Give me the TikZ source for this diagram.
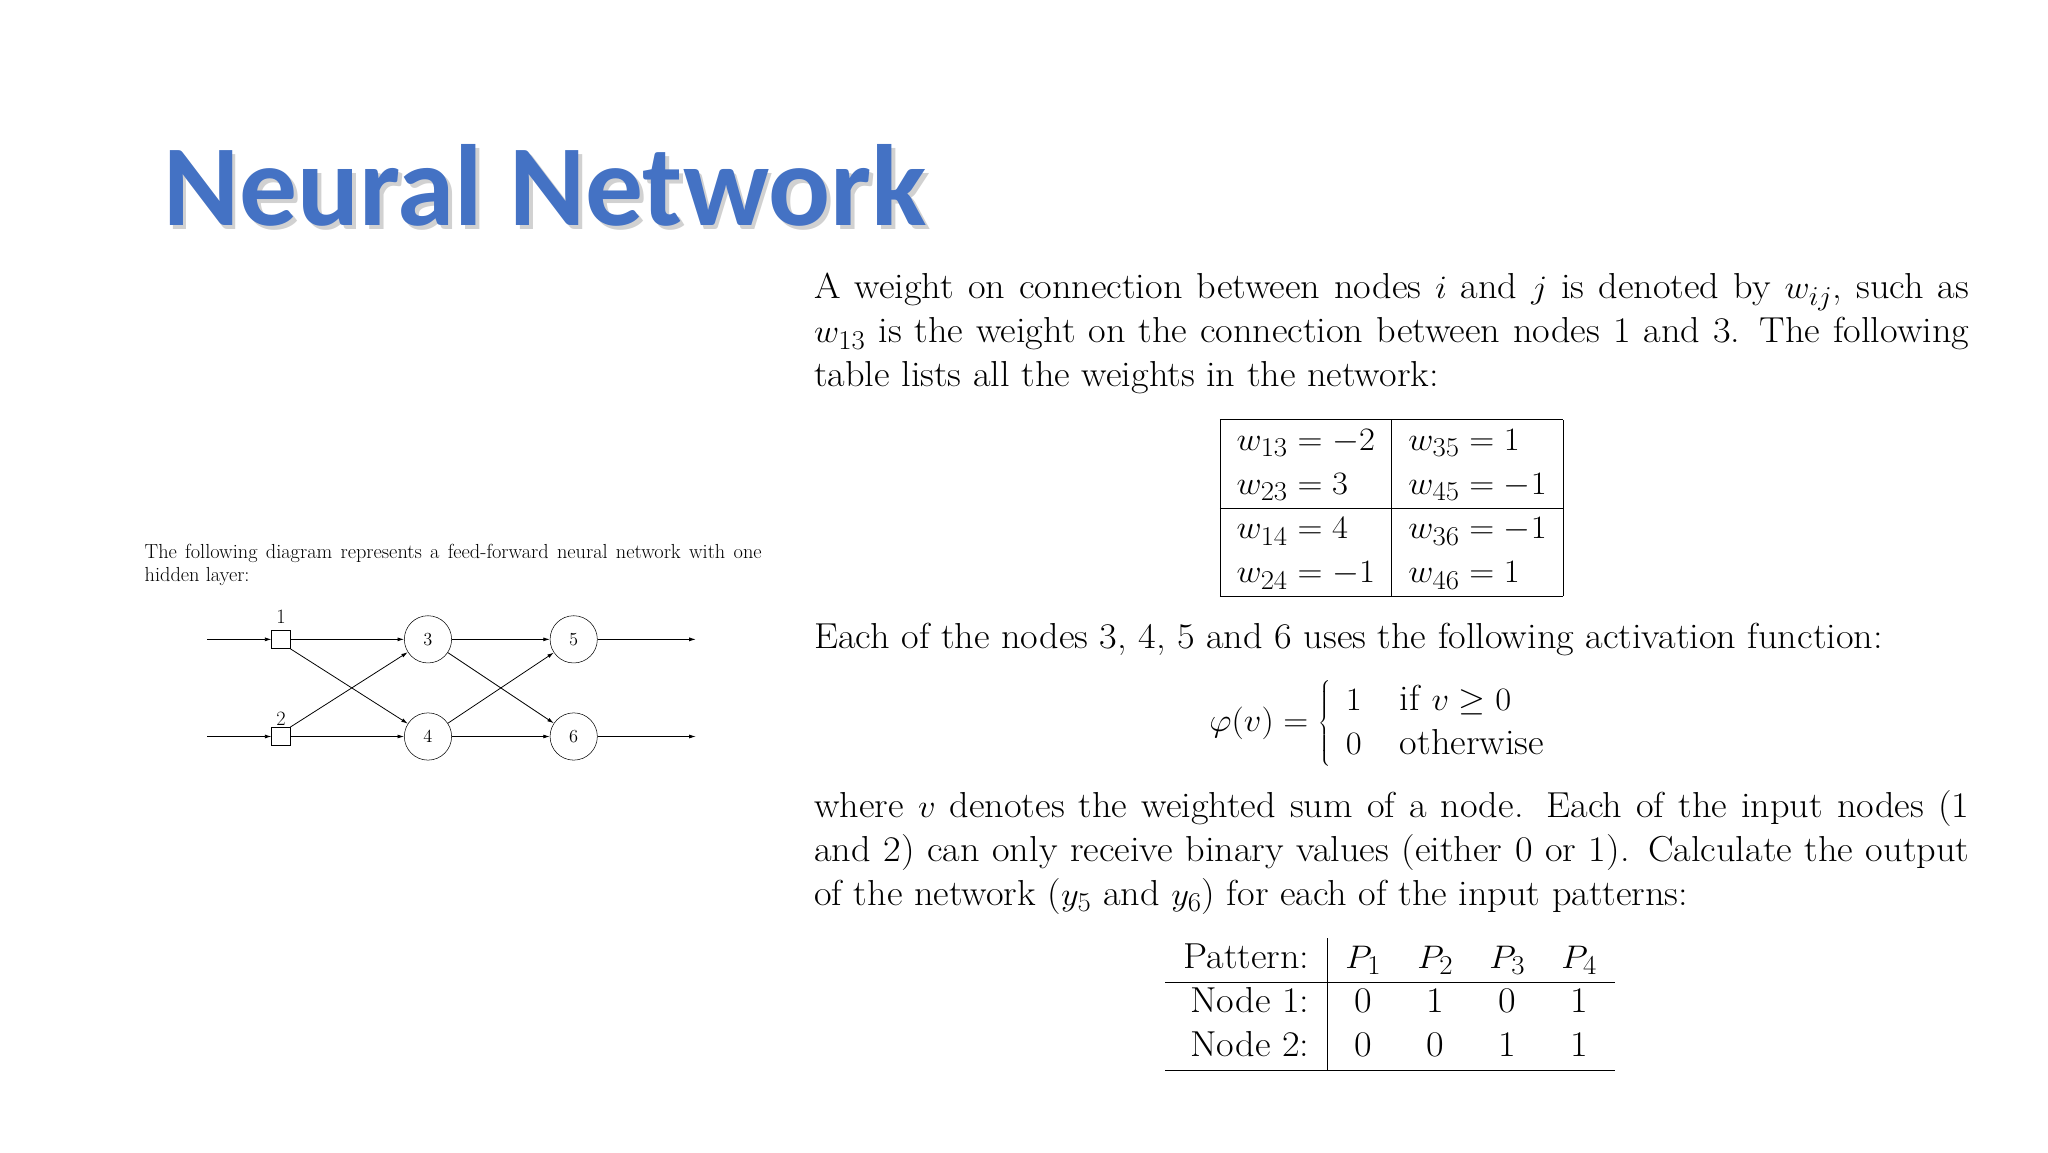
\documentclass[tikz,border=0pt]{standalone}
\usepackage{fontspec}
\newfontfamily\titlefont{Carlito}
\usetikzlibrary{arrows.meta}
\definecolor{titleblue}{RGB}{68,114,196}
\begin{document}
\begin{tikzpicture}[x=1pt,y=-1pt,
  body/.style={inner sep=0pt,xscale=1.06,transform shape,font=\fontsize{27.5}{33.5}\selectfont},
  small/.style={inner sep=0pt,font=\fontsize{15.5}{18}\selectfont},
  neuron/.style={draw,circle,minimum size=36pt,inner sep=0pt,font=\fontsize{14}{16}\selectfont},
  inbox/.style={draw,minimum size=14pt,inner sep=0pt},
  conn/.style={-{Latex[length=5pt,width=3pt]},line width=0.6pt}]
\useasboundingbox (0,0) rectangle (1560,878);
% title
\node[anchor=base west,inner sep=0pt,text=black!18,font=\titlefont\bfseries\fontsize{88}{100}\selectfont] (tshadow) at (127,175) {Neural Network};
\node[anchor=base west,inner sep=0pt,text=titleblue,font=\titlefont\bfseries\fontsize{88}{100}\selectfont] (title) at (124,172) {Neural Network};
% paragraph 1
\node[body,anchor=north west,text width=830pt,align=justify] (p1) at (620,208) {A weight on connection between nodes $i$ and $j$ is denoted by $w_{ij}$, such as $w_{13}$ is the weight on the connection between nodes 1 and 3. The following table lists all the weights in the network:};
% table 1
\node[body,anchor=north] (t1) at (1060,319) {\renewcommand{\arraystretch}{1.0}\setlength{\tabcolsep}{12pt}%
\begin{tabular}{|l|l|}\hline
$w_{13}=-2$ & $w_{35}=1$\\
$w_{23}=3$ & $w_{45}=-1$\\\hline
$w_{14}=4$ & $w_{36}=-1$\\
$w_{24}=-1$ & $w_{46}=1$\\\hline
\end{tabular}};
\node[body,anchor=base west] (p2) at (620,494) {Each of the nodes 3, 4, 5 and 6 uses the following activation function:};
\node[body,anchor=center] (phi) at (1052,551) {$\varphi(v)=\left\{\begin{array}{@{\;\,}l@{\hspace{1em}}l}1 & \mbox{if } v\ge 0\\ 0 & \mbox{otherwise}\end{array}\right.$};
\node[body,anchor=north west,text width=830pt,align=justify] (p3) at (620,602) {where $v$ denotes the weighted sum of a node. Each of the input nodes (1 and 2) can only receive binary values (either 0 or 1). Calculate the output of the network ($y_5$ and $y_6$) for each of the input patterns:};
\node[body,anchor=north] (t2) at (1059,714) {\renewcommand{\arraystretch}{1.0}\setlength{\tabcolsep}{13pt}%
\begin{tabular}{r|cccc}
Pattern: & $P_1$ & $P_2$ & $P_3$ & $P_4$\\\hline
Node 1: & 0 & 1 & 0 & 1\\
Node 2: & 0 & 0 & 1 & 1\\\hline
\end{tabular}};
% left text
\node[small,anchor=north west,text width=470pt,align=justify] (lt) at (110,414) {The following diagram represents a feed-forward neural network with one hidden layer:};
% network
\node[inbox] (n1) at (214,487) {};
\node[inbox] (n2) at (214,561) {};
\node[small,anchor=south] (l1) at (214,475) {1};
\node[small,anchor=south] (l2) at (214,553) {2};
\node[neuron] (n3) at (326,487) {3};
\node[neuron] (n4) at (326,561) {4};
\node[neuron] (n5) at (437,487) {5};
\node[neuron] (n6) at (437,561) {6};
\coordinate (i1) at (158,487);
\coordinate (i2) at (158,561);
\coordinate (o5) at (530,487);
\coordinate (o6) at (530,561);
\draw[conn] (i1) -- (n1);
\draw[conn] (i2) -- (n2);
\draw[conn] (n1) -- (n3);
\draw[conn] (n1.south east) -- (n4);
\draw[conn] (n2.north east) -- (n3);
\draw[conn] (n2) -- (n4);
\draw[conn] (n3) -- (n5);
\draw[conn] (n3) -- (n6);
\draw[conn] (n4) -- (n5);
\draw[conn] (n4) -- (n6);
\draw[conn] (n5) -- (o5);
\draw[conn] (n6) -- (o6);
\end{tikzpicture}
\end{document}
